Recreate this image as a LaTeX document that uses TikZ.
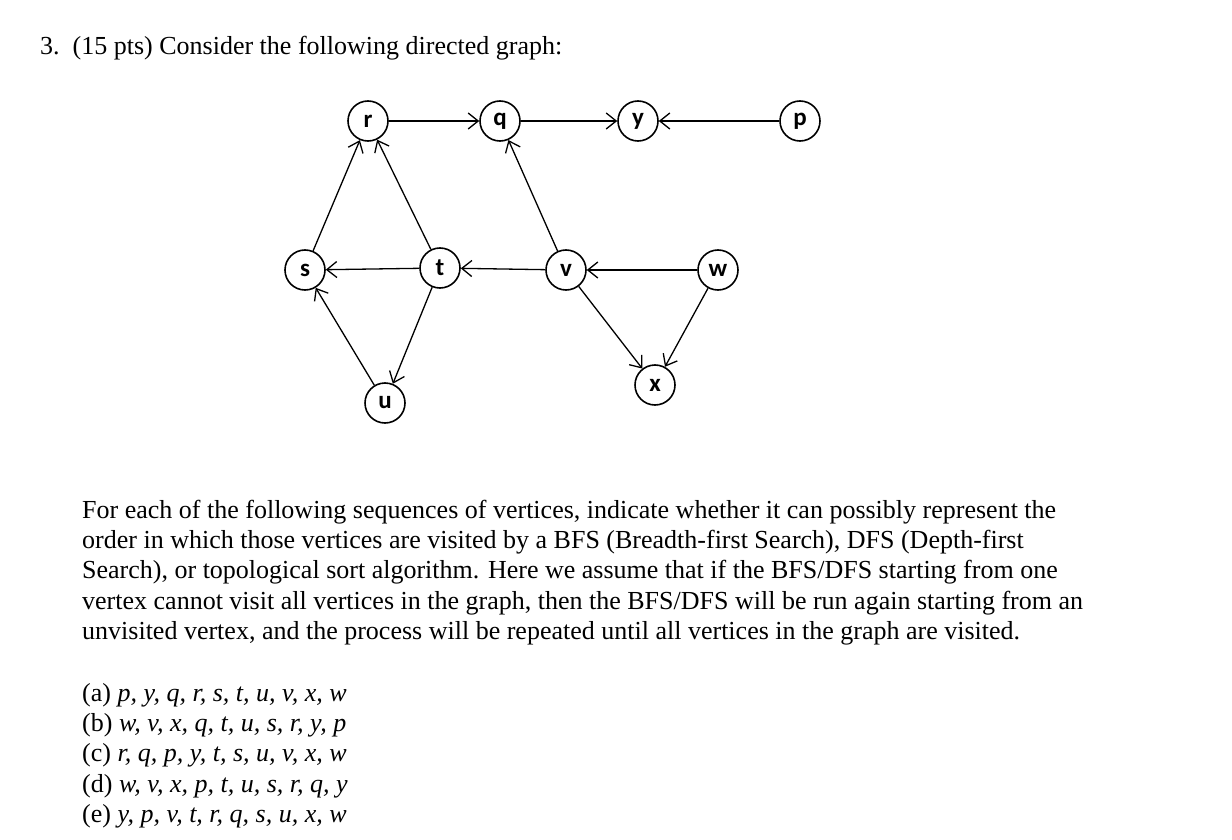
\documentclass[tikz,border=0pt]{standalone}
\usepackage{fontspec}
\setmainfont{Liberation Serif}
\newfontfamily\nodefont{Carlito}
\usetikzlibrary{arrows.meta}
\begin{document}
\begin{tikzpicture}[x=1pt,y=-1pt,
  vert/.style={circle,draw,line width=1.6pt,minimum size=40pt,inner sep=0pt,font=\nodefont\bfseries\fontsize{25}{25}\selectfont},
  edge/.style={line width=1.3pt,-{Straight Barb[length=10pt,width=16pt,line width=1.3pt]}},
  txt/.style={anchor=west,inner sep=0pt,font=\fontsize{26}{30}\selectfont}]
\useasboundingbox (0,0) rectangle (1232,840);
\node[txt] (title) at (40,48) {3.\enspace (15 pts) Consider the following directed graph:};
\node[vert] (r) at (368,121) {r};
\node[vert] (q) at (500,121) {q};
\node[vert] (y) at (638,121) {y};
\node[vert] (p) at (800,121) {p};
\node[vert] (s) at (305,270) {s};
\node[vert] (t) at (440,268) {t};
\node[vert] (v) at (566,270) {v};
\node[vert] (w) at (718,270) {w};
\node[vert] (u) at (385,403) {u};
\node[vert] (x) at (655,385) {x};
\draw[edge] (r) -- (q);
\draw[edge] (q) -- (y);
\draw[edge] (p) -- (y);
\draw[edge] (s) -- (r);
\draw[edge] (t) -- (r);
\draw[edge] (v) -- (q);
\draw[edge] (t) -- (s);
\draw[edge] (v) -- (t);
\draw[edge] (w) -- (v);
\draw[edge] (t) -- (u);
\draw[edge] (u) -- (s);
\draw[edge] (v) -- (x);
\draw[edge] (w) -- (x);
\node[txt] (l1) at (82,512) {For each of the following sequences of vertices, indicate whether it can possibly represent the};
\node[txt] (l2) at (82,542) {order in which those vertices are visited by a BFS (Breadth-first Search), DFS (Depth-first};
\node[txt] (l3) at (82,572) {Search), or topological sort algorithm. Here we assume that if the BFS/DFS starting from one};
\node[txt] (l4) at (82,603) {vertex cannot visit all vertices in the graph, then the BFS/DFS will be run again starting from an};
\node[txt] (l5) at (82,633) {unvisited vertex, and the process will be repeated until all vertices in the graph are visited.};
\node[txt] (a) at (82,695) {(a) \textit{p, y, q, r, s, t, u, v, x, w}};
\node[txt] (b) at (82,725) {(b) \textit{w, v, x, q, t, u, s, r, y, p}};
\node[txt] (c) at (82,755) {(c) \textit{r, q, p, y, t, s, u, v, x, w}};
\node[txt] (d) at (82,786) {(d) \textit{w, v, x, p, t, u, s, r, q, y}};
\node[txt] (e) at (82,816) {(e) \textit{y, p, v, t, r, q, s, u, x, w}};
\end{tikzpicture}
\end{document}
